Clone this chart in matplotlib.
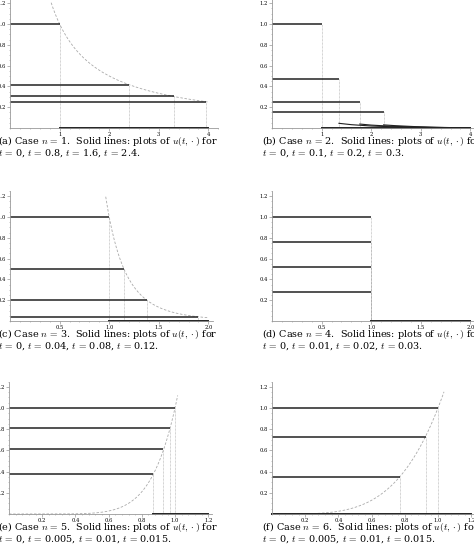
import numpy as np
import matplotlib
matplotlib.use("Agg")
import matplotlib.pyplot as plt
from matplotlib.ticker import AutoMinorLocator

plt.rcParams['mathtext.fontset'] = 'cm'
plt.rcParams['font.family'] = 'DejaVu Serif'

W, H = 474, 552
fig = plt.figure(figsize=(W/100, H/100), dpi=100)

# ---- data ----
# panel a (n=1)
a_heights = [1.0, 0.417, 0.303, 0.253]
a_ends = [1.0, 2.4, 3.3, 3.95]
a_bottom = [1.0, 4.0]
# panel b (n=2)
b_heights = [1.0, 0.47, 0.25, 0.15]
b_ends = [1.0, 1.35, 1.77, 2.25]
b_bottom = [1.0, 4.0]
b_tail_x = [[1.35, 1.6, 2.0, 2.6, 3.2, 4.0],
            [1.77, 2.0, 2.4, 3.0, 3.5, 4.0],
            [2.25, 2.5, 2.9, 3.3, 3.7, 4.0]]
b_tail_y = [[0.045, 0.032, 0.019, 0.009, 0.004, 0.0],
            [0.038, 0.028, 0.017, 0.008, 0.004, 0.0],
            [0.030, 0.022, 0.013, 0.007, 0.003, 0.0]]
# panel c (n=3)
c_heights = [1.0, 0.5, 0.2, 0.04]
c_ends = [1.0, 1.15, 1.38, 1.9]
c_bottom = [1.0, 2.0]
# panel d (n=4)
d_heights = [1.0, 0.76, 0.52, 0.28]
d_ends = [1.0, 1.0, 1.0, 1.0]
d_bottom = [1.0, 2.0]
# panel e (n=5)
e_heights = [1.0, 0.81, 0.61, 0.38]
e_ends = [1.0, 0.97, 0.93, 0.87]
e_bottom = [0.87, 1.2]
# panel f (n=6)
f_heights = [1.0, 0.73, 0.35]
f_ends = [1.0, 0.925, 0.77]
f_bottom = [0.0, 1.2]

captions = [
    ("(a)", "1", ["0", "0.8", "1.6", "2.4"]),
    ("(b)", "2", ["0", "0.1", "0.2", "0.3"]),
    ("(c)", "3", ["0", "0.04", "0.08", "0.12"]),
    ("(d)", "4", ["0", "0.01", "0.02", "0.03"]),
    ("(e)", "5", ["0", "0.005", "0.01", "0.015"]),
    ("(f)", "6", ["0", "0.005", "0.01", "0.015"]),
]

def make_ax(x0, y0px, xpx_per, ypx_per, xmax, ymax=1.25):
    w = xmax * xpx_per
    h = ymax * ypx_per
    ax = fig.add_axes([x0/W, (H - y0px)/H, w/W, h/H])
    ax.set_xlim(0, xmax); ax.set_ylim(0, ymax)
    for s in ['top', 'right']:
        ax.spines[s].set_visible(False)
    for s in ['left', 'bottom']:
        ax.spines[s].set_color('#999999'); ax.spines[s].set_linewidth(0.6)
    ax.tick_params(labelsize=3.8, length=2, width=0.5, color='#999999', pad=1.2)
    ax.tick_params(which='minor', length=1, width=0.4, color='#999999')
    ax.xaxis.set_minor_locator(AutoMinorLocator(5))
    ax.yaxis.set_minor_locator(AutoMinorLocator(4))
    ax.set_yticks([0.2, 0.4, 0.6, 0.8, 1.0, 1.2])
    ax.set_yticklabels(['0.2', '0.4', '0.6', '0.8', '1.0', '1.2'])
    return ax

def draw(ax, heights, ends, bottom, curve_exp=None, cstart=0, cend=1):
    if curve_exp is not None:
        xs = np.linspace(cstart, cend, 300)
        ax.plot(xs, xs**curve_exp, ls=(0, (3, 2)), color='#aaaaaa', lw=0.6, clip_on=False)
    for h, e in zip(heights, ends):
        ax.plot([0, e], [h, h], color='#222222', lw=1.1, solid_capstyle='butt')
        ax.plot([e, e], [0, h], color='#aaaaaa', lw=0.5, ls=(0, (1, 1)))
    ax.plot(bottom, [0, 0], color='#222222', lw=1.4, clip_on=False)

def caption(xpx, ypx, idx):
    lab, n, ts = captions[idx]
    l1 = lab + r" Case $n\,=\,$" + n + r".  Solid lines: plots of $u(t,\cdot)$ for"
    l2 = ", ".join([r"$t\,=\,$" + t for t in ts]) + "."
    fig.text(xpx/W, 1 - ypx/H, l1, fontsize=6.9, va='center', ha='left')
    fig.text(xpx/W, 1 - (ypx+12)/H, l2, fontsize=6.9, va='center', ha='left')

# row 1
ax = make_ax(10, 128, 49.6, 104, 4.2)
ax.set_xticks([1, 2, 3, 4]); ax.set_xticklabels(['1', '2', '3', '4'])
draw(ax, a_heights, a_ends, a_bottom, -1, 0.83, 4.0)
ax = make_ax(272, 128, 49.6, 104, 4.2)
ax.set_xticks([1, 2, 3, 4]); ax.set_xticklabels(['1', '2', '3', '4'])
draw(ax, b_heights, b_ends, b_bottom)
for tx, ty in zip(b_tail_x, b_tail_y):
    ax.plot(tx, ty, color='#222222', lw=0.8)

# row 2
ax = make_ax(10, 321, 99.2, 104, 2.05)
ax.set_xticks([0.5, 1.0, 1.5, 2.0]); ax.set_xticklabels(['0.5', '1.0', '1.5', '2.0'])
draw(ax, c_heights, c_ends, c_bottom, -5, 0.965, 2.0)
ax = make_ax(272, 321, 99.2, 104, 2.1)
ax.set_xticks([0.5, 1.0, 1.5, 2.0]); ax.set_xticklabels(['0.5', '1.0', '1.5', '2.0'])
draw(ax, d_heights, d_ends, d_bottom)

# row 3
xt = [0.2, 0.4, 0.6, 0.8, 1.0, 1.2]; xl = ['0.2', '0.4', '0.6', '0.8', '1.0', '1.2']
ax = make_ax(9, 514, 166, 106, 1.22)
ax.set_xticks(xt); ax.set_xticklabels(xl)
draw(ax, e_heights, e_ends, e_bottom, 7, 0.0, 1.2**(1/7) * 0.99)
ax = make_ax(272, 514, 166, 106, 1.25)
ax.set_xticks(xt); ax.set_xticklabels(xl)
draw(ax, f_heights, f_ends, f_bottom, 4, 0.0, 1.2**0.25 * 0.99)

caption(-2, 141, 0); caption(262, 141, 1)
caption(-2, 334, 2); caption(262, 334, 3)
caption(-2, 527, 4); caption(262, 527, 5)

fig.savefig("out.png", dpi=100)
